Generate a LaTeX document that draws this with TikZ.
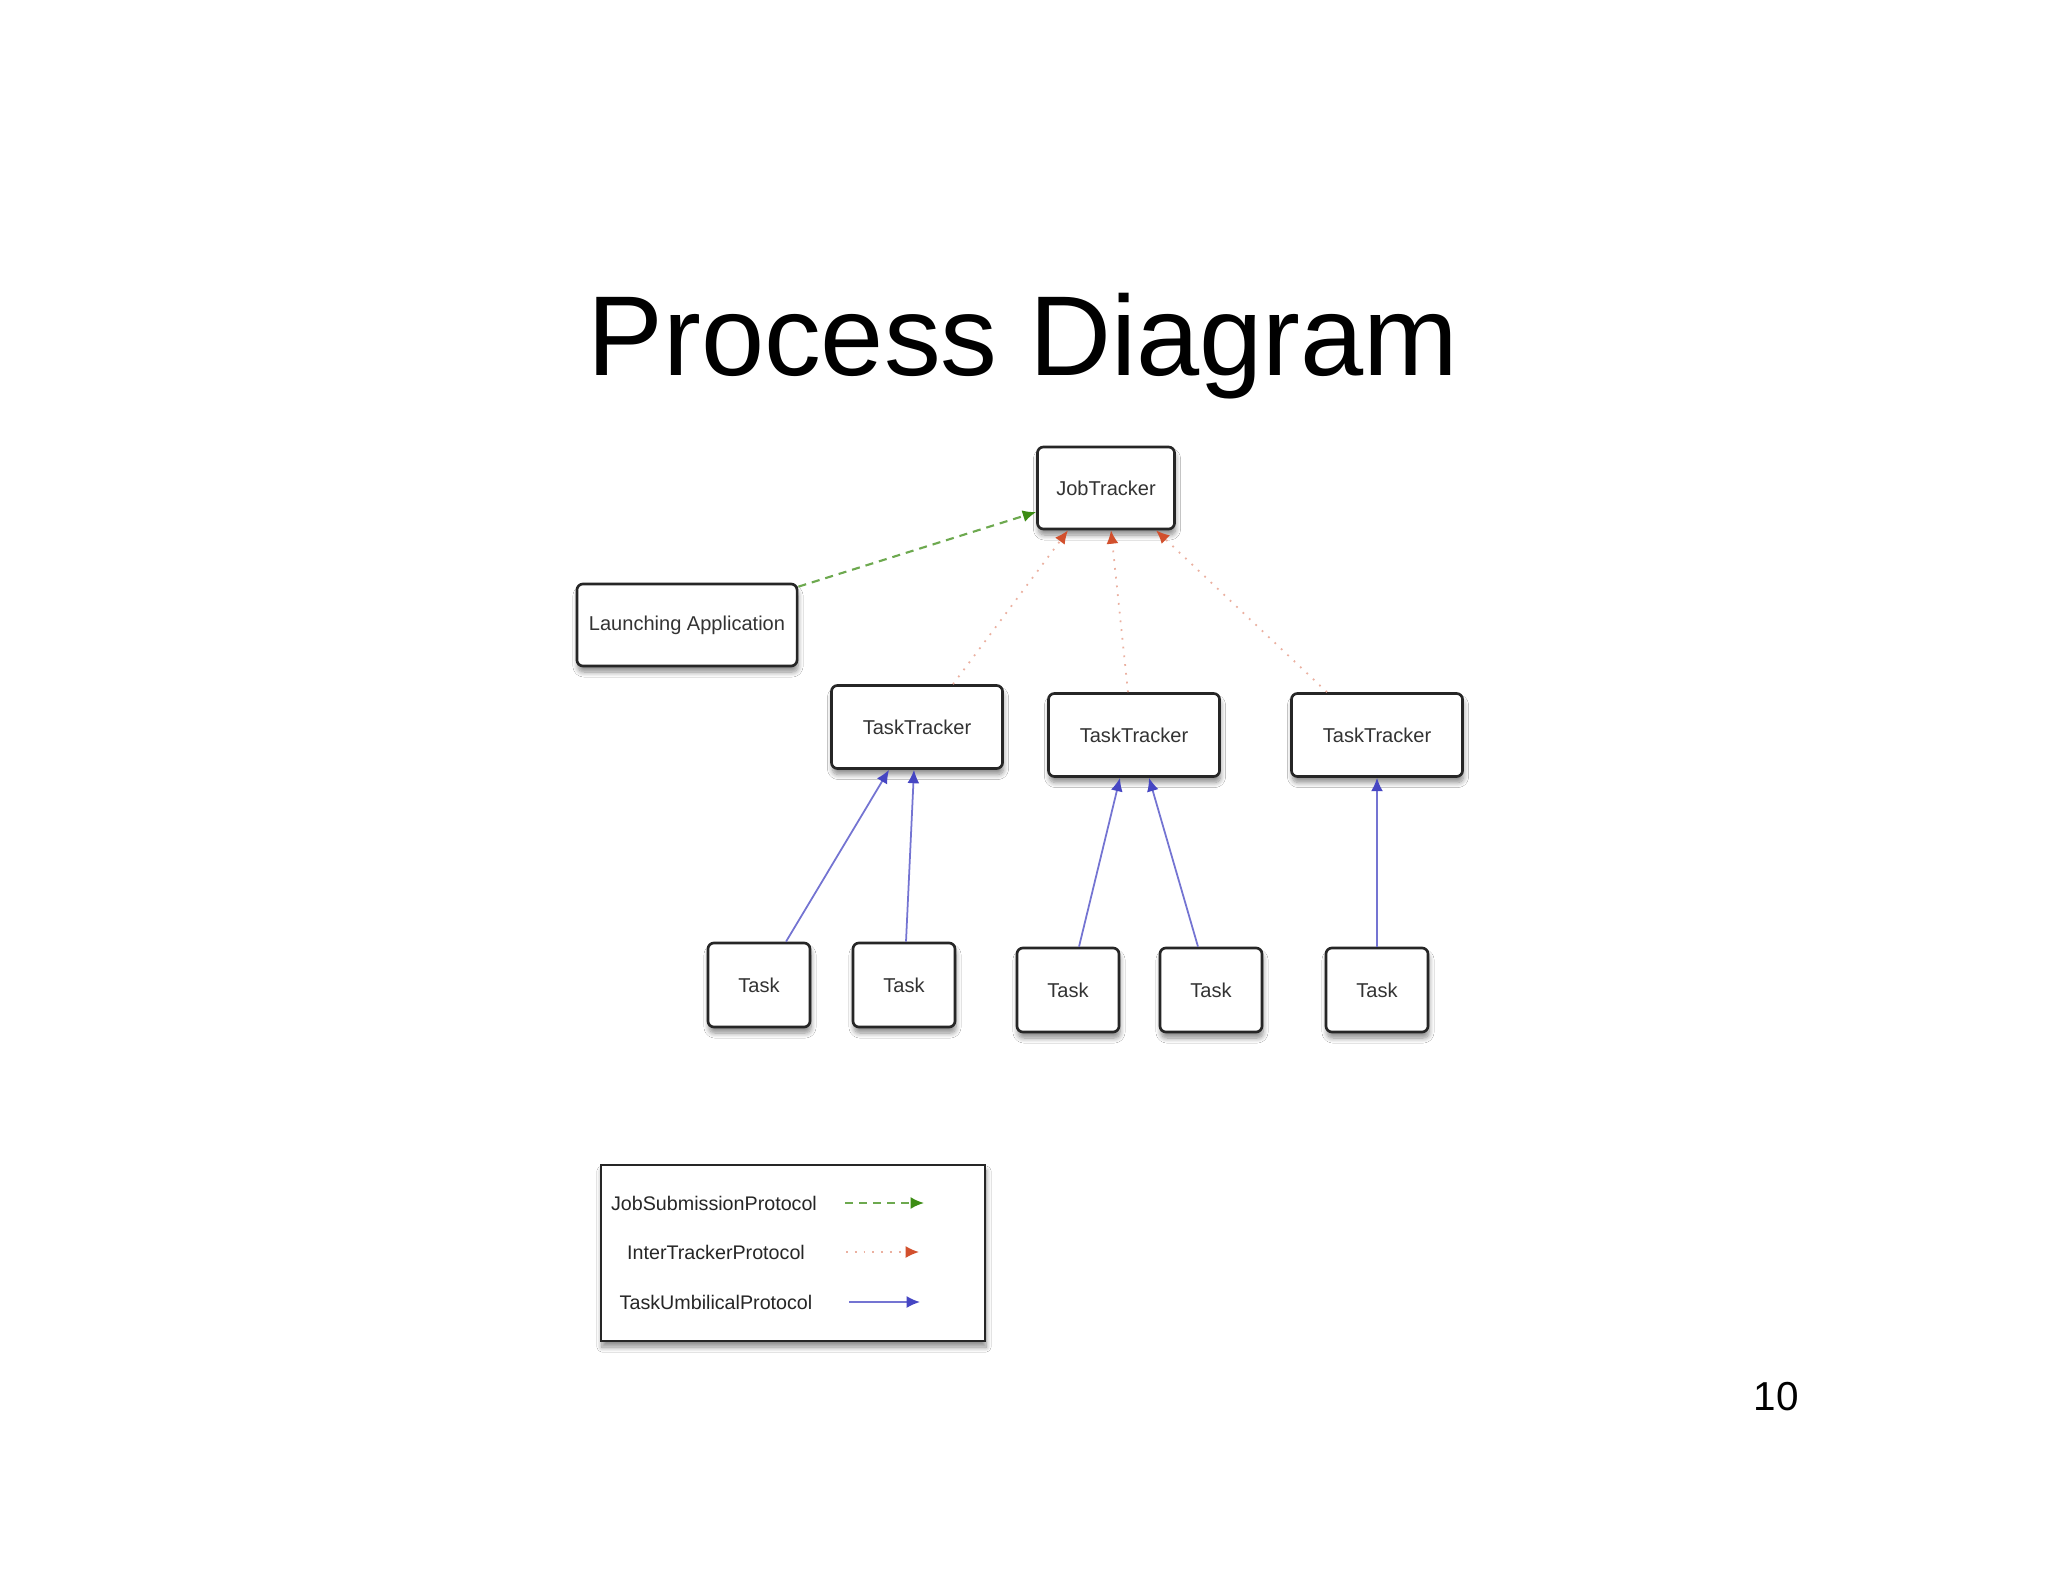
\documentclass[tikz,border=0pt]{standalone}
\usepackage{fontspec}
\setmainfont{Liberation Sans}
\usetikzlibrary{arrows.meta,shadows.blur}
\definecolor{jsgreen}{RGB}{60,140,20}
\definecolor{itred}{RGB}{210,80,45}
\definecolor{tublue}{RGB}{70,70,195}
\begin{document}
\begin{tikzpicture}[x=0.01cm,y=-0.01cm,
	box/.style={draw=black!85,line width=0.75pt,rounded corners=0.06cm,fill=white,
		blur shadow={shadow xshift=0.01cm,shadow yshift=-0.06cm,shadow blur steps=8,
			shadow blur radius=0.05cm,shadow opacity=45},
		text=black!80,font=\fontsize{5.7}{7}\selectfont,inner sep=0pt},
	tracker/.style={box,minimum width=1.71cm,minimum height=0.83cm},
	taskbox/.style={box,minimum width=1.02cm,minimum height=0.84cm},
	jsarrow/.style={draw=jsgreen!75,line width=0.6pt,dash pattern=on 2.3pt off 1.7pt,
		-{Latex[length=3.8pt,width=3.4pt,color=jsgreen]}},
	itarrow/.style={draw=itred!45,line width=0.5pt,dash pattern=on 0.5pt off 2pt,
		-{Latex[length=3.8pt,width=3.4pt,color=itred]}},
	tuarrow/.style={draw=tublue!75,line width=0.5pt,
		-{Latex[length=3.8pt,width=3.4pt,color=tublue]}},
	legtext/.style={text=black!85,font=\fontsize{5.6}{7}\selectfont}]
\useasboundingbox[fill=white] (0,0) rectangle (2048,1582);
% title and page number
\node (title) at (1023,376) [anchor=base,font=\fontsize{32.3}{36}\selectfont] {Process Diagram};
\node (page) at (1776,1410) [anchor=base,font=\fontsize{11.5}{14}\selectfont] {10};
% boxes
\node (jt) at (1106,488) [box,minimum width=1.37cm,minimum height=0.82cm] {JobTracker};
\node (la) at (687,625) [box,minimum width=2.2cm,minimum height=0.82cm] {Launching Application};
\node (tt1) at (917,727) [tracker] {TaskTracker};
\node (tt2) at (1134,735) [tracker] {TaskTracker};
\node (tt3) at (1377,735) [tracker] {TaskTracker};
\node (t1) at (759,985) [taskbox] {Task};
\node (t2) at (904,985) [taskbox] {Task};
\node (t3) at (1068,990) [taskbox] {Task};
\node (t4) at (1211,990) [taskbox] {Task};
\node (t5) at (1377,990) [taskbox] {Task};
% protocols
\draw[jsarrow] ([yshift=-0.04cm]la.north east) -- ([yshift=-0.24cm]jt.west);
\draw[itarrow] ([xshift=0.36cm]tt1.north) -- ([xshift=-0.38cm]jt.south);
\draw[itarrow] ([xshift=-0.06cm]tt2.north) -- ([xshift=0.05cm]jt.south);
\draw[itarrow] ([xshift=-0.5cm]tt3.north) -- ([xshift=0.5cm]jt.south);
\draw[tuarrow] ([xshift=0.27cm]t1.north) -- ([xshift=-0.28cm]tt1.south);
\draw[tuarrow] ([xshift=0.02cm]t2.north) -- ([xshift=-0.03cm]tt1.south);
\draw[tuarrow] ([xshift=0.11cm]t3.north) -- ([xshift=-0.14cm]tt2.south);
\draw[tuarrow] ([xshift=-0.13cm]t4.north) -- ([xshift=0.15cm]tt2.south);
\draw[tuarrow] (t5.north) -- (tt3.south);
% legend
\node (leg) at (793,1253) [draw=black!85,line width=0.75pt,fill=white,
	blur shadow={shadow xshift=0.01cm,shadow yshift=-0.06cm,shadow blur steps=8,
		shadow blur radius=0.05cm,shadow opacity=45},
	minimum width=3.84cm,minimum height=1.76cm] {};
\node (ljs) at (714,1203) [legtext] {JobSubmissionProtocol};
\node (lit) at (716,1252) [legtext] {InterTrackerProtocol};
\node (ltu) at (716,1302) [legtext] {TaskUmbilicalProtocol};
\coordinate (js1) at (845,1203);
\coordinate (js2) at (924,1203);
\coordinate (it1) at (846,1252);
\coordinate (it2) at (919,1252);
\coordinate (tu1) at (849,1302);
\coordinate (tu2) at (920,1302);
\draw[jsarrow] (js1) -- (js2);
\draw[itarrow] (it1) -- (it2);
\draw[tuarrow] (tu1) -- (tu2);
\end{tikzpicture}
\end{document}
